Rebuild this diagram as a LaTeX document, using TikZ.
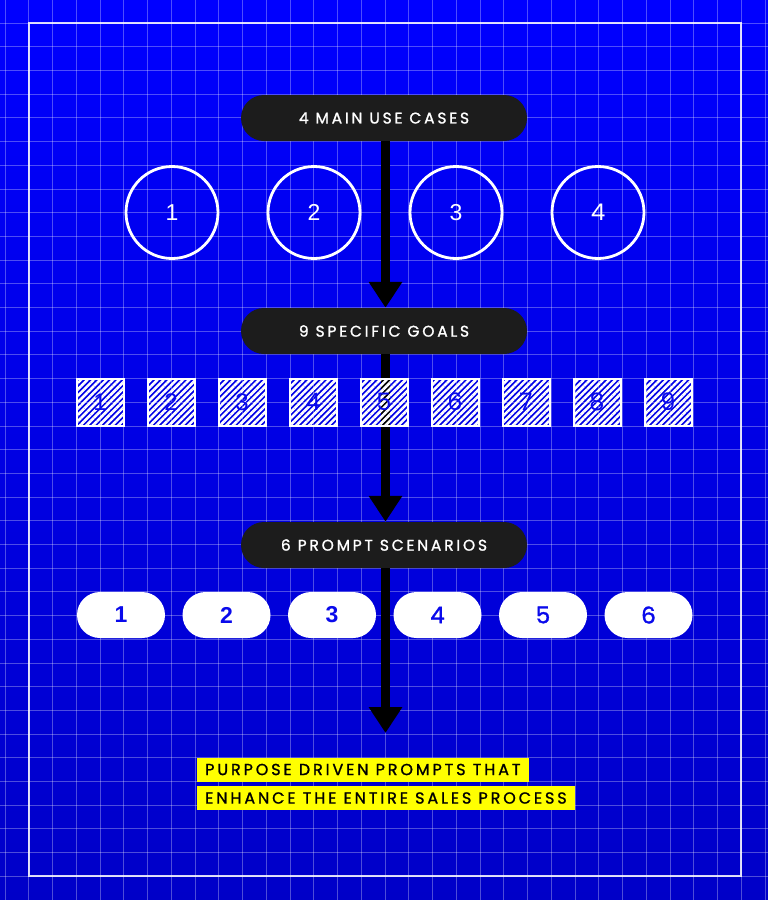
\documentclass[tikz,border=0pt]{standalone}
\usepackage{fontspec}
\setmainfont{Liberation Sans}
\newfontfamily\labelfont[LetterSpace=18,FakeBold=1.2]{Poppins}
\newfontfamily\digitfont[BoldFont=Poppins,BoldFeatures={FakeBold=1.5}]{Poppins}
\usetikzlibrary{arrows.meta,patterns.meta,positioning,calc}

\definecolor{bgtop}{RGB}{0,0,255}
\definecolor{bgbottom}{RGB}{0,0,200}
\definecolor{pillgray}{RGB}{28,28,28}
\definecolor{marker}{RGB}{255,255,0}
\definecolor{ink}{RGB}{10,10,235}

% digits 1-3 in the plain face, 4 and up in the geometric one
\newcommand\casenum[1]{\ifnum#1<4 #1\else{\digitfont #1}\fi}

\tikzset{
  gridline/.style={white, opacity=0.3, line width=0.8pt},
  title/.style={fill=pillgray, rounded corners=23pt, minimum width=286pt, minimum height=46pt,
    inner sep=0pt, text=white, font=\labelfont\fontsize{15.5}{15.5}\selectfont},
  usecase/.style={circle, draw=white, line width=2.8pt, minimum size=92pt, inner sep=0pt,
    text=white, font=\fontsize{23}{23}\selectfont},
  goal/.style={draw=white, line width=2pt, minimum size=47pt, inner sep=0pt,
    pattern={Lines[angle=45,distance=4.5pt,line width=2.6pt]}, pattern color=white,
    text=ink, font=\fontsize{24}{24}\selectfont},
  scenario/.style={fill=white, rounded corners=23pt, minimum width=88pt, minimum height=46pt,
    inner sep=0pt, text=ink, font=\bfseries\fontsize{23}{23}\selectfont},
  flow/.style={line width=9pt, -{Triangle[length=26pt,width=32pt]}},
  highlight/.style={fill=marker, text=black, anchor=west, inner xsep=8pt, inner ysep=0pt,
    minimum height=24pt, font=\labelfont\fontsize{16}{16}\selectfont}
}

\begin{document}
\begin{tikzpicture}[x=1pt,y=-1pt]
\useasboundingbox (0,0) rectangle (768,900);
% background and grid
\fill[top color=bgtop, bottom color=bgbottom] (0,0) rectangle (768,900);
\foreach \i in {0,...,32}
  \draw[gridline] (5+23.75*\i,0) -- (5+23.75*\i,900);
\foreach \j in {0,...,38}
  \draw[gridline] (0,-0.7+23.7*\j) -- (768,-0.7+23.7*\j);
\draw[white, opacity=0.85, line width=1.5pt] (29,23) rectangle (741,876);

% headings
\node[title] (cases) at (384,118) {4 MAIN USE CASES};
\node[title] (goals) at (384,331) {9 SPECIFIC GOALS};
\node[title] (prompts) at (384,545) {6 PROMPT SCENARIOS};
\coordinate (result) at (385.5,733);

% flow arrows
\draw[flow] ($(cases.south)+(1.5,0)$) -- ($(goals.north)+(1.5,0)$);
\draw[flow] ($(goals.south)+(1.5,0)$) -- ($(prompts.north)+(1.5,0)$);
\draw[flow] ($(prompts.south)+(1.5,0)$) -- (result);

% use cases
\foreach \i in {1,...,4}
  \node[usecase] (case\i) at (30+142*\i,212.5) {\casenum{\i}};

% goals
\foreach \i in {1,...,9}
  \node[goal] (goal\i) at (29+71*\i,402) {\casenum{\i}};

% scenarios
\foreach \i in {1,...,6}
  \node[scenario] (scen\i) at (15.5+105.5*\i,615) {\casenum{\i}};

% outcome
\node[highlight] (out1) at (197,769.5) {PURPOSE DRIVEN PROMPTS THAT};
\node[highlight] (out2) at (197,798) {ENHANCE THE ENTIRE SALES PROCESS};
\end{tikzpicture}
\end{document}
